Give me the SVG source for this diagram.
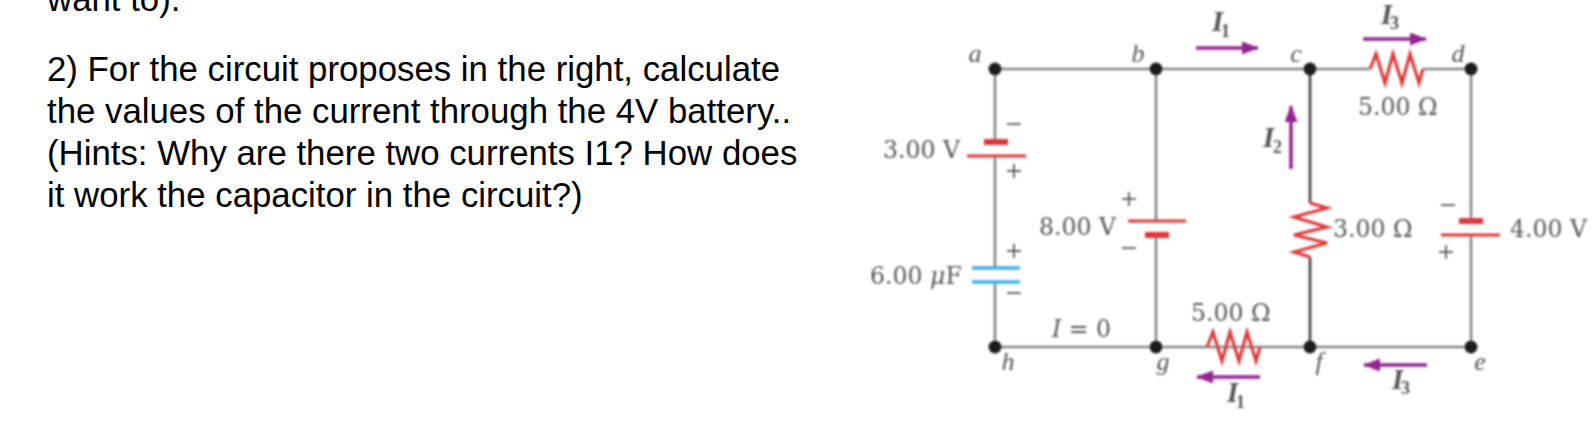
<svg xmlns="http://www.w3.org/2000/svg" width="1596" height="444" viewBox="0 0 1596 444">
<style>
.q{font-family:"Liberation Sans",Arial,sans-serif;font-size:34.8px;fill:#000}
.v{font-family:"DejaVu Serif","Liberation Serif",serif;font-size:23.6px;fill:#555}
.s{font-family:"DejaVu Serif","Liberation Serif",serif;font-size:22px;fill:#555;text-anchor:middle}
.n{font-family:"Liberation Serif",serif;font-style:italic;font-size:26px;fill:#555;text-anchor:middle}
.i{font-family:"Liberation Serif",serif;font-style:italic;font-weight:bold;font-size:29px;fill:#555}
.sub{font-family:"Liberation Serif",serif;font-weight:bold;font-size:18px;fill:#555}
.w{stroke:#858585;stroke-width:2.6;fill:none}
.wd{stroke:#3c3c3c;stroke-width:2.6;fill:none}
.r{stroke:#e0393a;stroke-width:3.2;fill:none;stroke-linejoin:miter}
.bl{stroke:#e0393a;stroke-width:3}
.bs{stroke:#e0393a;stroke-width:6}
.c{stroke:#3fb0e8;stroke-width:3.6}
.a{stroke:#93278f;stroke-width:3.6;fill:none;marker-end:url(#ah)}
.d{fill:#1e1e1e}
</style>
<defs>
<marker id="ah" markerUnits="userSpaceOnUse" markerWidth="18" markerHeight="14" refX="16" refY="6.5" orient="auto"><path d="M0 0L17 6.5L0 13Z" fill="#93278f"/></marker>
<filter id="soft" x="-5%" y="-5%" width="110%" height="110%"><feGaussianBlur stdDeviation="0.85"/></filter>
</defs>
<rect width="1596" height="444" fill="#fff"/>
<g id="question">
<text class="q" x="47" y="11">want to).</text>
<text class="q" x="47" y="81">2) For the circuit proposes in the right, calculate</text>
<text class="q" x="47" y="123">the values of the current through the 4V battery..</text>
<text class="q" x="47" y="165">(Hints: Why are there two currents I1? How does</text>
<text class="q" x="47" y="207">it work the capacitor in the circuit?)</text>
</g>
<g filter="url(#soft)">
<g id="connectors">
<path class="w" d="M995 69H1370M1423 69H1471V221M1471 235V347H995V282M995 268V156M995 142V69"/>
<path class="w" d="M1156 69V221M1156 235V347"/>
<path class="wd" d="M1310 69V203M1310 257V347"/>
</g>
<g id="node-a"><circle class="d" cx="995" cy="69" r="6.5"/><text class="n" x="975" y="62">a</text></g>
<g id="node-b"><circle class="d" cx="1156" cy="69" r="6.5"/><text class="n" x="1138" y="62">b</text></g>
<g id="node-c"><circle class="d" cx="1310" cy="69" r="6.5"/><text class="n" x="1296" y="62">c</text></g>
<g id="node-d"><circle class="d" cx="1471" cy="69" r="6.5"/><text class="n" x="1458" y="62">d</text></g>
<g id="node-e"><circle class="d" cx="1471" cy="347" r="6.5"/><text class="n" x="1480" y="370">e</text></g>
<g id="node-f"><circle class="d" cx="1310" cy="347" r="6.5"/><text class="n" x="1319" y="370">f</text></g>
<g id="node-g"><circle class="d" cx="1156" cy="347" r="6.5"/><text class="n" x="1163" y="370">g</text></g>
<g id="node-h"><circle class="d" cx="995" cy="347" r="6.5"/><text class="n" x="1008" y="370">h</text></g>
<g id="battery-3v">
<line class="bs" x1="984" y1="142" x2="1008" y2="142"/><line class="bl" x1="967" y1="156" x2="1026" y2="156"/>
<text class="v" x="883" y="158">3.00 V</text><text class="s" x="1014" y="131">−</text><text class="s" x="1014" y="178">+</text>
</g>
<g id="battery-8v">
<line class="bl" x1="1128" y1="221" x2="1186" y2="221"/><line class="bs" x1="1145" y1="235" x2="1169" y2="235"/>
<text class="v" x="1039" y="235">8.00 V</text><text class="s" x="1129" y="206">+</text><text class="s" x="1129" y="255">−</text>
</g>
<g id="battery-4v">
<line class="bs" x1="1459" y1="221" x2="1483" y2="221"/><line class="bl" x1="1441" y1="235" x2="1500" y2="235"/>
<text class="v" x="1510" y="237">4.00 V</text><text class="s" x="1448" y="212">−</text><text class="s" x="1446" y="259">+</text>
</g>
<g id="capacitor">
<line class="c" x1="972" y1="268" x2="1020" y2="268"/><line class="c" x1="972" y1="282" x2="1020" y2="282"/>
<text class="v" x="870" y="284">6.00 <tspan font-style="italic">μ</tspan>F</text><text class="s" x="1014" y="258">+</text><text class="s" x="1014" y="300">−</text>
</g>
<g id="resistor-top">
<path class="r" d="M1370 69L1376 54L1385 83L1393 54L1402 83L1410 54L1419 83L1423 69"/>
<text class="v" x="1358" y="115">5.00 Ω</text>
</g>
<g id="resistor-mid">
<path class="r" d="M1310 203L1327 208L1294 217L1327 227L1294 235L1327 243L1294 252L1310 257"/>
<text class="v" x="1333" y="237">3.00 Ω</text>
</g>
<g id="resistor-bottom">
<path class="r" d="M1207 347L1213 332L1222 361L1230 332L1239 361L1247 332L1256 361L1260 347"/>
<text class="v" x="1191" y="321">5.00 Ω</text>
</g>
<g id="currents">
<line class="a" x1="1196" y1="48" x2="1258" y2="48"/>
<line class="a" x1="1363" y1="39" x2="1426" y2="39"/>
<line class="a" x1="1291" y1="169" x2="1291" y2="106"/>
<line class="a" x1="1260" y1="377" x2="1197" y2="377"/>
<line class="a" x1="1427" y1="365" x2="1364" y2="365"/>
<text class="i" x="1212" y="31">I</text><text class="sub" x="1221" y="37">1</text>
<text class="i" x="1381" y="24">I</text><text class="sub" x="1390" y="29">3</text>
<text class="i" x="1263" y="147">I</text><text class="sub" x="1273" y="153">2</text>
<text class="i" x="1227" y="402">I</text><text class="sub" x="1236" y="408">1</text>
<text class="i" x="1392" y="389">I</text><text class="sub" x="1401" y="394">3</text>
<text class="v" x="1052" y="337"><tspan font-style="italic">I</tspan> = 0</text>
</g>
</g>
</svg>
